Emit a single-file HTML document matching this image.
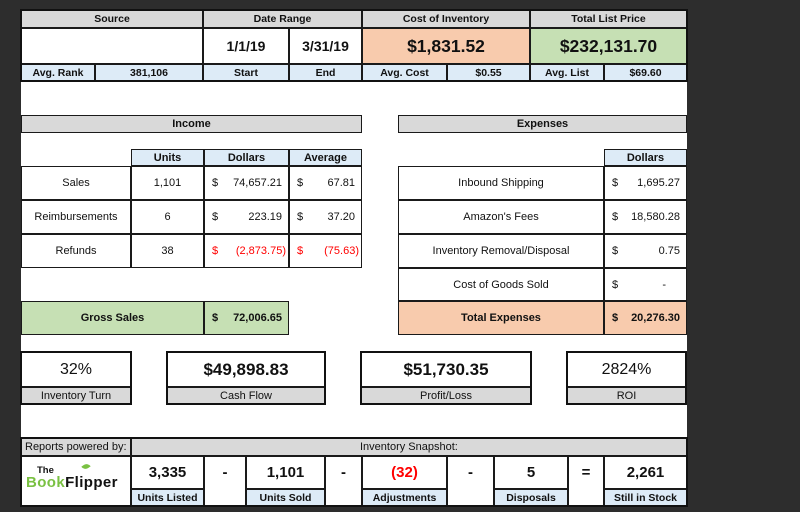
<!DOCTYPE html>
<html><head><meta charset="utf-8"><style>
*{margin:0;padding:0;box-sizing:border-box}
body{width:800px;height:512px;background:#2d2d2d;position:relative;overflow:hidden;font-family:"Liberation Sans",Arial,sans-serif;color:#111}
#sheet{position:absolute;left:21px;top:10px;width:666px;height:496px;background:#fff}
.c{position:absolute;border:1px solid #1a1a1a;display:flex;align-items:center;justify-content:center;font-size:11px;white-space:nowrap}
.g{background:#d9d9d9}.b{background:#ddebf7}.p{background:#f8cbad}.gr{background:#c6e0b4}
.bo{font-weight:bold}
.h{font-size:10.5px;font-weight:bold}
.f{position:absolute;border:2px solid #111}
.d{justify-content:space-between;padding:0 6px 0 7px}
.n{padding-right:2px}
.r{color:#f00}
.op{align-items:flex-start;padding-top:7px;font-size:15px;font-weight:bold}
.v{font-size:15px;font-weight:bold}
.k1{font-size:16px}
.k2{font-size:17px;font-weight:bold}
</style></head><body>
<div id="sheet"></div>

<!-- Top block -->
<div class="c g h" style="left:21px;top:10px;width:182px;height:18px">Source</div>
<div class="c g h" style="left:203px;top:10px;width:159px;height:18px">Date Range</div>
<div class="c g h" style="left:362px;top:10px;width:168px;height:18px">Cost of Inventory</div>
<div class="c g h" style="left:530px;top:10px;width:157px;height:18px">Total List Price</div>

<div class="c" style="left:21px;top:28px;width:182px;height:36px"></div>
<div class="c bo" style="left:203px;top:28px;width:86px;height:36px;font-size:14px">1/1/19</div>
<div class="c bo" style="left:289px;top:28px;width:73px;height:36px;font-size:14px">3/31/19</div>
<div class="c p bo" style="left:362px;top:28px;width:168px;height:36px;font-size:17.5px">$1,831.52</div>
<div class="c gr bo" style="left:530px;top:28px;width:157px;height:36px;font-size:17.5px">$232,131.70</div>

<div class="c b h" style="left:21px;top:64px;width:74px;height:17px">Avg. Rank</div>
<div class="c b h" style="left:95px;top:64px;width:108px;height:17px">381,106</div>
<div class="c b h" style="left:203px;top:64px;width:86px;height:17px">Start</div>
<div class="c b h" style="left:289px;top:64px;width:73px;height:17px">End</div>
<div class="c b h" style="left:362px;top:64px;width:85px;height:17px">Avg. Cost</div>
<div class="c b h" style="left:447px;top:64px;width:83px;height:17px">$0.55</div>
<div class="c b h" style="left:530px;top:64px;width:74px;height:17px">Avg. List</div>
<div class="c b h" style="left:604px;top:64px;width:83px;height:17px">$69.60</div>
<div class="f" style="left:20px;top:9px;width:668px;height:73px"></div>

<!-- Income -->
<div class="c g bo" style="left:21px;top:115px;width:341px;height:18px">Income</div>
<div class="c g bo" style="left:398px;top:115px;width:289px;height:18px">Expenses</div>

<div class="c b bo" style="left:131px;top:149px;width:73px;height:17px">Units</div>
<div class="c b bo" style="left:204px;top:149px;width:85px;height:17px">Dollars</div>
<div class="c b bo" style="left:289px;top:149px;width:73px;height:17px">Average</div>

<div class="c" style="left:21px;top:166px;width:110px;height:34px">Sales</div>
<div class="c" style="left:131px;top:166px;width:73px;height:34px">1,101</div>
<div class="c d" style="left:204px;top:166px;width:85px;height:34px"><span>$</span><span>74,657.21</span></div>
<div class="c d" style="left:289px;top:166px;width:73px;height:34px"><span>$</span><span>67.81</span></div>

<div class="c" style="left:21px;top:200px;width:110px;height:34px">Reimbursements</div>
<div class="c" style="left:131px;top:200px;width:73px;height:34px">6</div>
<div class="c d" style="left:204px;top:200px;width:85px;height:34px"><span>$</span><span>223.19</span></div>
<div class="c d" style="left:289px;top:200px;width:73px;height:34px"><span>$</span><span>37.20</span></div>

<div class="c" style="left:21px;top:234px;width:110px;height:34px">Refunds</div>
<div class="c" style="left:131px;top:234px;width:73px;height:34px">38</div>
<div class="c d n r" style="left:204px;top:234px;width:85px;height:34px"><span>$</span><span>(2,873.75)</span></div>
<div class="c d n r" style="left:289px;top:234px;width:73px;height:34px"><span>$</span><span>(75.63)</span></div>

<div class="c gr bo" style="left:21px;top:301px;width:183px;height:34px">Gross Sales</div>
<div class="c gr bo d" style="left:204px;top:301px;width:85px;height:34px"><span>$</span><span>72,006.65</span></div>

<!-- Expenses -->
<div class="c b bo" style="left:604px;top:149px;width:83px;height:17px">Dollars</div>
<div class="c" style="left:398px;top:166px;width:206px;height:34px">Inbound Shipping</div>
<div class="c d" style="left:604px;top:166px;width:83px;height:34px"><span>$</span><span>1,695.27</span></div>
<div class="c" style="left:398px;top:200px;width:206px;height:34px">Amazon's Fees</div>
<div class="c d" style="left:604px;top:200px;width:83px;height:34px"><span>$</span><span>18,580.28</span></div>
<div class="c" style="left:398px;top:234px;width:206px;height:34px">Inventory Removal/Disposal</div>
<div class="c d" style="left:604px;top:234px;width:83px;height:34px"><span>$</span><span>0.75</span></div>
<div class="c" style="left:398px;top:268px;width:206px;height:33px">Cost of Goods Sold</div>
<div class="c d" style="left:604px;top:268px;width:83px;height:33px"><span>$</span><span style="padding-right:14px">-</span></div>
<div class="c p bo" style="left:398px;top:301px;width:206px;height:34px">Total Expenses</div>
<div class="c p bo d" style="left:604px;top:301px;width:83px;height:34px"><span>$</span><span>20,276.30</span></div>

<!-- KPIs -->
<div class="c k1" style="left:21px;top:352px;width:110px;height:35px">32%</div>
<div class="c g" style="left:21px;top:387px;width:110px;height:17px">Inventory Turn</div>
<div class="f" style="left:20px;top:351px;width:112px;height:54px"></div>

<div class="c k2" style="left:167px;top:352px;width:158px;height:35px">$49,898.83</div>
<div class="c g" style="left:167px;top:387px;width:158px;height:17px">Cash Flow</div>
<div class="f" style="left:166px;top:351px;width:160px;height:54px"></div>

<div class="c k2" style="left:361px;top:352px;width:170px;height:35px">$51,730.35</div>
<div class="c g" style="left:361px;top:387px;width:170px;height:17px">Profit/Loss</div>
<div class="f" style="left:360px;top:351px;width:172px;height:54px"></div>

<div class="c k1" style="left:567px;top:352px;width:119px;height:35px">2824%</div>
<div class="c g" style="left:567px;top:387px;width:119px;height:17px">ROI</div>
<div class="f" style="left:566px;top:351px;width:121px;height:54px"></div>

<!-- Bottom snapshot -->
<div class="c g" style="left:21px;top:438px;width:110px;height:18px;justify-content:flex-start;padding-left:3px">Reports powered by:</div>
<div class="c g" style="left:131px;top:438px;width:556px;height:18px;justify-content:flex-start;padding-left:228px">Inventory Snapshot:</div>

<div class="c" style="left:21px;top:456px;width:110px;height:50px"></div>
<div style="position:absolute;left:37px;top:466px;font-size:9.5px;line-height:9px;font-weight:bold;color:#111">The</div>
<div style="position:absolute;left:26px;top:475px;font-size:15px;line-height:15px;font-weight:bold;letter-spacing:0.4px;white-space:nowrap"><span style="color:#7ac143">Book</span><span style="color:#111">Flipper</span></div>
<div style="position:absolute;left:82px;top:464px;width:8px;height:5px;background:#7ac143;border-radius:0 6px 0 6px;transform:rotate(-35deg)"></div>

<div class="c v" style="left:131px;top:456px;width:73px;height:33px">3,335</div>
<div class="c b h" style="left:131px;top:489px;width:73px;height:17px">Units Listed</div>
<div class="c op" style="left:204px;top:456px;width:42px;height:50px">-</div>
<div class="c v" style="left:246px;top:456px;width:79px;height:33px">1,101</div>
<div class="c b h" style="left:246px;top:489px;width:79px;height:17px">Units Sold</div>
<div class="c op" style="left:325px;top:456px;width:37px;height:50px">-</div>
<div class="c v r" style="left:362px;top:456px;width:85px;height:33px">(32)</div>
<div class="c b h" style="left:362px;top:489px;width:85px;height:17px">Adjustments</div>
<div class="c op" style="left:447px;top:456px;width:47px;height:50px">-</div>
<div class="c v" style="left:494px;top:456px;width:74px;height:33px">5</div>
<div class="c b h" style="left:494px;top:489px;width:74px;height:17px">Disposals</div>
<div class="c op" style="left:568px;top:456px;width:36px;height:50px">=</div>
<div class="c v" style="left:604px;top:456px;width:83px;height:33px">2,261</div>
<div class="c b h" style="left:604px;top:489px;width:83px;height:17px">Still in Stock</div>
<div class="f" style="left:20px;top:437px;width:668px;height:70px"></div>

<div style="position:absolute;left:688px;top:0;width:112px;height:512px;background:#2d2d2d"></div>
</body></html>
